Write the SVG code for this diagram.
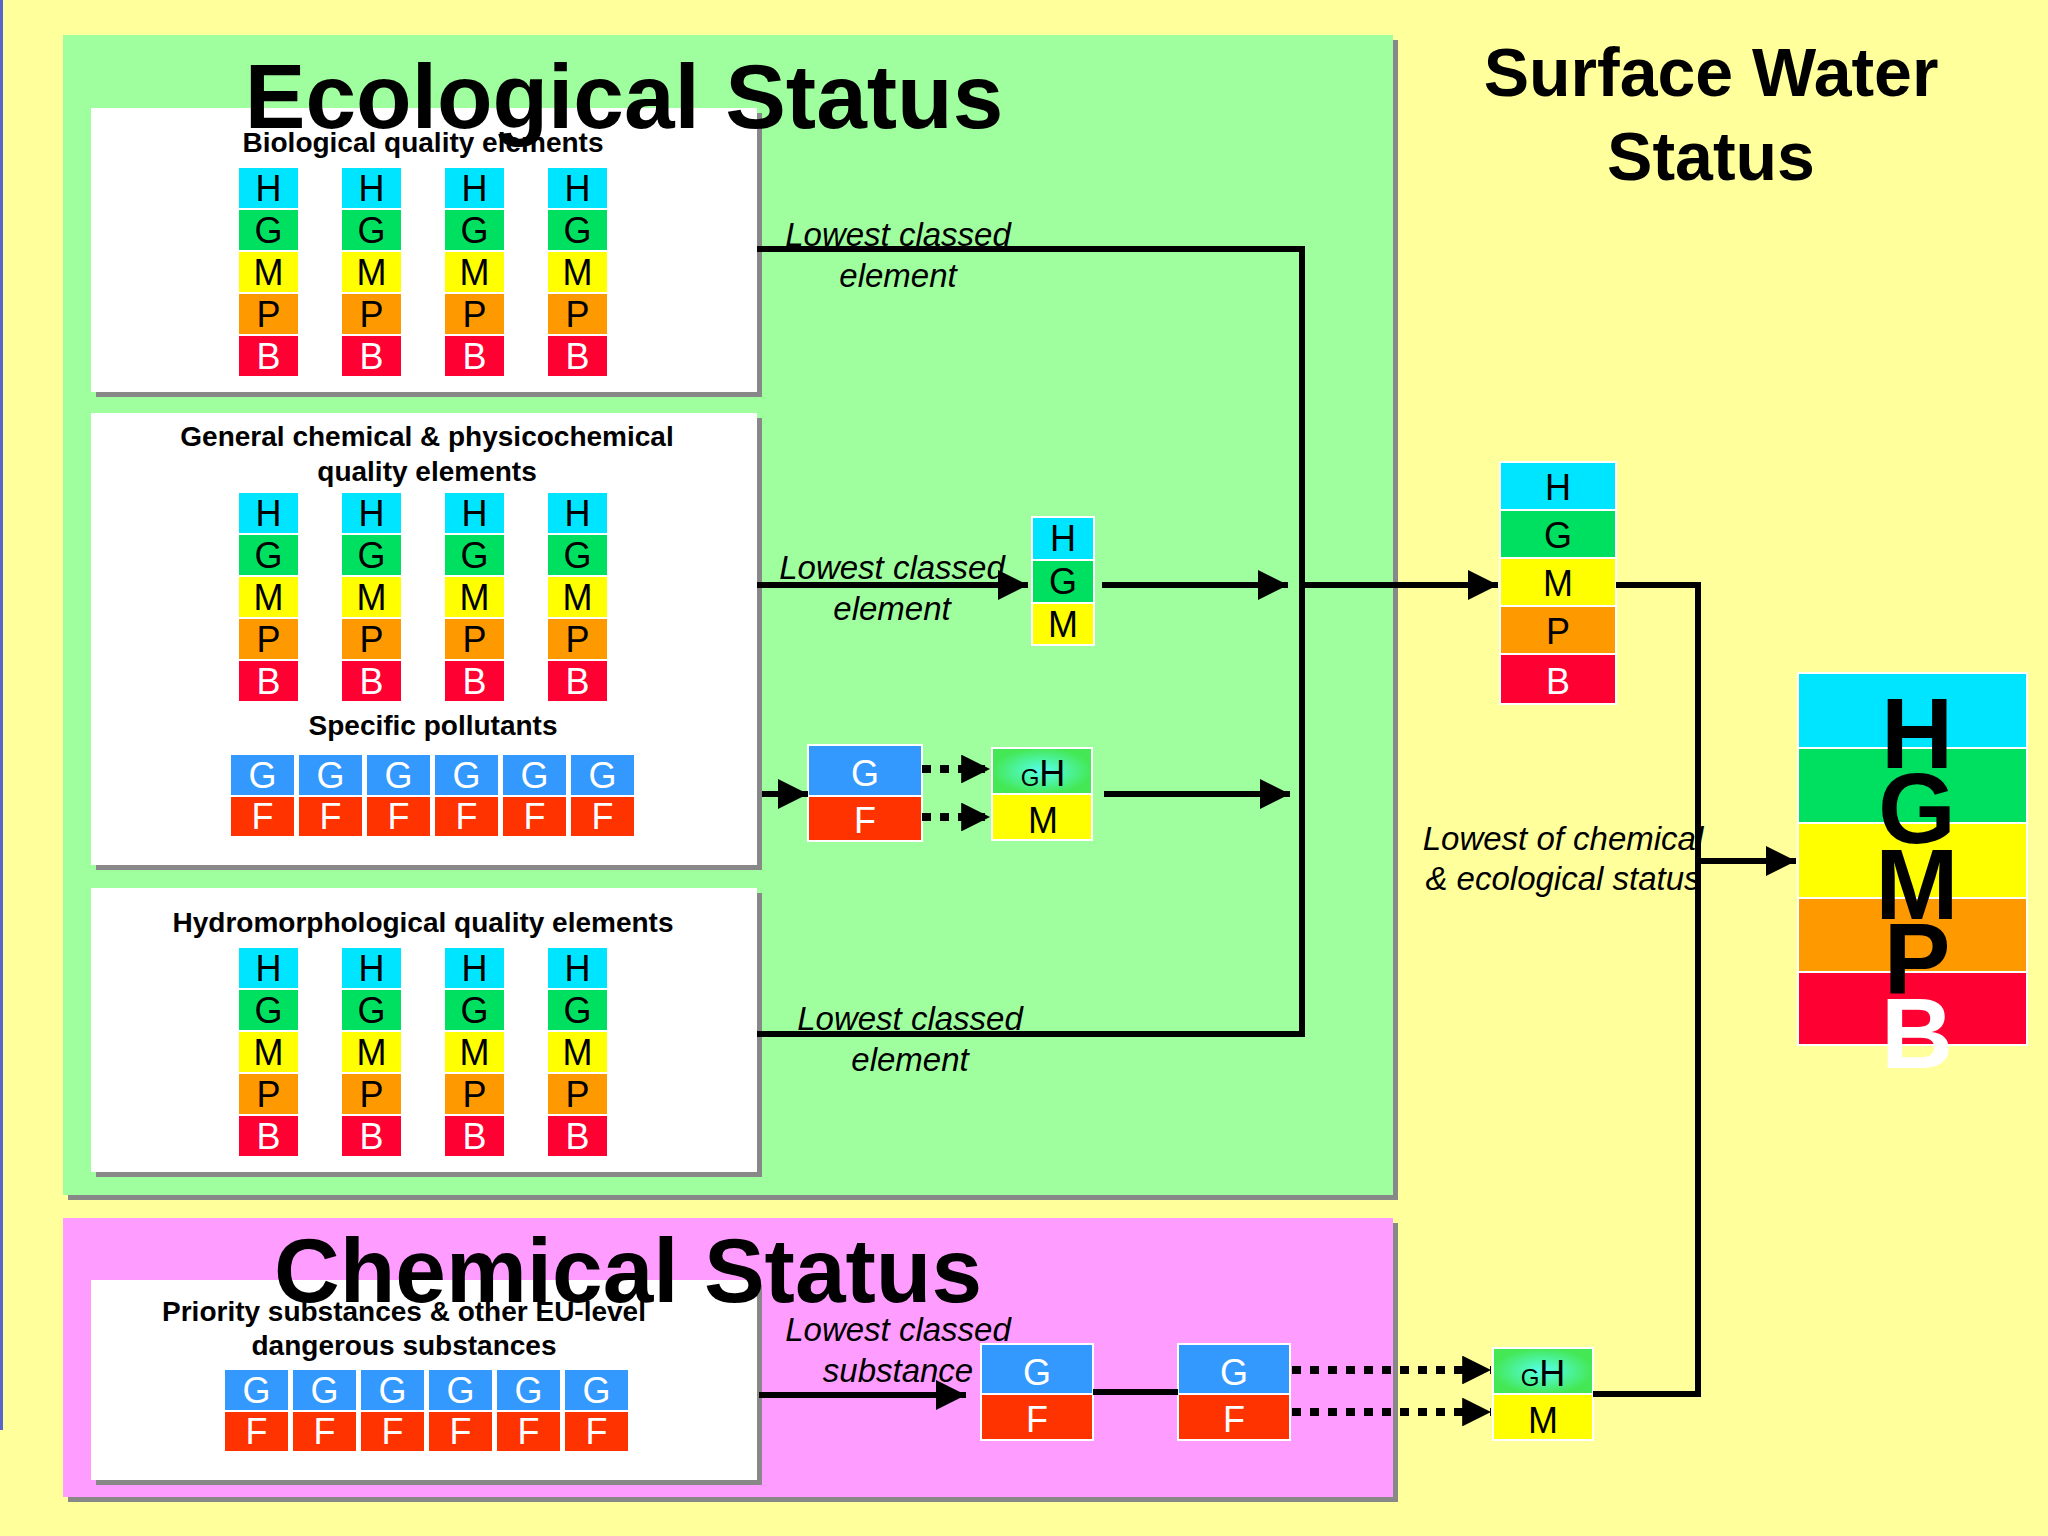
<svg xmlns="http://www.w3.org/2000/svg" xmlns:xlink="http://www.w3.org/1999/xlink" width="2048" height="1536" viewBox="0 0 2048 1536">
<style>
.c{stroke:#fff;stroke-width:2}
.h{fill:#00E5FF}.g{fill:#00E060}.m{fill:#FFFF00}.p{fill:#FF9900}.b{fill:#FF0033}.bl{fill:#3399FF}.f{fill:#FF3300}
.t{font-family:"Liberation Sans",Arial,sans-serif;font-size:36px;text-anchor:middle}
.w{fill:#fff}
.hd{font-family:"Liberation Sans",Arial,sans-serif;font-weight:bold;font-size:28px;text-anchor:middle}
.ti{font-family:"Liberation Sans",Arial,sans-serif;font-weight:bold;text-anchor:middle}
.lb{font-family:"Liberation Sans",Arial,sans-serif;font-style:italic;font-size:33px;text-anchor:middle}
.ln{stroke:#000;stroke-width:6;fill:none}
.dt{stroke:#000;stroke-width:8;fill:none;stroke-dasharray:9 9}
</style>
<defs>
<marker id="a" viewBox="0 0 10 10" refX="10" refY="5" markerWidth="5" markerHeight="5" orient="auto" markerUnits="strokeWidth"><path d="M0,0L10,5L0,10z"/></marker>
<marker id="a2" viewBox="0 0 10 10" refX="10" refY="5" markerWidth="3.6" markerHeight="3.6" orient="auto" markerUnits="strokeWidth"><path d="M0,0L10,5L0,10z"/></marker>
<radialGradient id="gh"><stop offset="0" stop-color="#55FFEE"/><stop offset="1" stop-color="#44E855"/></radialGradient>
<g id="stk">
<rect class="c h" x="0" y="0" width="61" height="42"/><text class="t" x="30.5" y="34">H</text>
<rect class="c g" x="0" y="42" width="61" height="42"/><text class="t" x="30.5" y="76">G</text>
<rect class="c m" x="0" y="84" width="61" height="42"/><text class="t" x="30.5" y="118">M</text>
<rect class="c p" x="0" y="126" width="61" height="42"/><text class="t" x="30.5" y="160">P</text>
<rect class="c b" x="0" y="168" width="61" height="42"/><text class="t w" x="30.5" y="202">B</text>
</g>
<g id="gf">
<rect class="c bl" x="0" y="0" width="65" height="42"/><text class="t w" x="32.5" y="34">G</text>
<rect class="c f" x="0" y="42" width="65" height="41"/><text class="t w" x="32.5" y="75">F</text>
</g>
</defs>
<rect width="2048" height="1536" fill="#FFFF9C"/>
<rect x="0" y="0" width="3" height="1430" fill="#5566cc"/>
<g id="eco">
<rect x="68" y="40" width="1330" height="1160" fill="#888"/>
<rect x="63" y="35" width="1330" height="1160" fill="#9FFF9F"/>
</g>
<g id="chem">
<rect x="68" y="1223" width="1330" height="279" fill="#888"/>
<rect x="63" y="1218" width="1330" height="279" fill="#FF9CFF"/>
</g>
<g id="box1"><rect x="96" y="113" width="666" height="284" fill="#888"/><rect x="91" y="108" width="666" height="284" fill="#fff"/>
<text class="hd" x="423" y="152">Biological quality elements</text>
<use href="#stk" x="238" y="167"/><use href="#stk" x="341" y="167"/><use href="#stk" x="444" y="167"/><use href="#stk" x="547" y="167"/></g>
<g id="box2"><rect x="96" y="418" width="666" height="452" fill="#888"/><rect x="91" y="413" width="666" height="452" fill="#fff"/>
<text class="hd" x="427" y="446">General chemical &amp; physicochemical</text>
<text class="hd" x="427" y="481">quality elements</text>
<use href="#stk" x="238" y="492"/><use href="#stk" x="341" y="492"/><use href="#stk" x="444" y="492"/><use href="#stk" x="547" y="492"/>
<text class="hd" x="433" y="735">Specific pollutants</text>
<use href="#gf" x="230" y="754"/><use href="#gf" x="298" y="754"/><use href="#gf" x="366" y="754"/><use href="#gf" x="434" y="754"/><use href="#gf" x="502" y="754"/><use href="#gf" x="570" y="754"/></g>
<g id="box3"><rect x="96" y="893" width="666" height="284" fill="#888"/><rect x="91" y="888" width="666" height="284" fill="#fff"/>
<text class="hd" x="423" y="932">Hydromorphological quality elements</text>
<use href="#stk" x="238" y="947"/><use href="#stk" x="341" y="947"/><use href="#stk" x="444" y="947"/><use href="#stk" x="547" y="947"/></g>
<g id="box4"><rect x="96" y="1285" width="666" height="200" fill="#888"/><rect x="91" y="1280" width="666" height="200" fill="#fff"/>
<text class="hd" x="404" y="1321">Priority substances &amp; other EU-level</text>
<text class="hd" x="404" y="1355">dangerous substances</text>
<use href="#gf" x="224" y="1369"/><use href="#gf" x="292" y="1369"/><use href="#gf" x="360" y="1369"/><use href="#gf" x="428" y="1369"/><use href="#gf" x="496" y="1369"/><use href="#gf" x="564" y="1369"/></g>
<text class="ti" x="624" y="128" font-size="91">Ecological Status</text>
<text class="ti" x="628" y="1302" font-size="91">Chemical Status</text>
<text class="ti" x="1711" y="96" font-size="68">Surface Water</text>
<text class="ti" x="1711" y="180" font-size="68">Status</text>
<g id="hgm"><rect class="c h" x="1032" y="517" width="62" height="43"/><text class="t" x="1063" y="551">H</text>
<rect class="c g" x="1032" y="560" width="62" height="43"/><text class="t" x="1063" y="594">G</text>
<rect class="c m" x="1032" y="603" width="62" height="42"/><text class="t" x="1063" y="637">M</text></g>
<g id="gf1"><rect class="c bl" x="808" y="745" width="114" height="51"/><text class="t w" x="865" y="786">G</text>
<rect class="c f" x="808" y="796" width="114" height="45"/><text class="t w" x="865" y="833">F</text></g>
<g id="ghm1"><rect class="c" fill="url(#gh)" x="992" y="748" width="100" height="46"/><text class="t" x="1043" y="786"><tspan font-size="24">G</tspan>H</text>
<rect class="c m" x="992" y="794" width="100" height="46"/><text class="t" x="1043" y="833">M</text></g>
<g id="stkR"><rect class="c h" x="1500" y="462" width="116" height="48"/><text class="t" x="1558" y="500">H</text>
<rect class="c g" x="1500" y="510" width="116" height="48"/><text class="t" x="1558" y="548">G</text>
<rect class="c m" x="1500" y="558" width="116" height="48"/><text class="t" x="1558" y="596">M</text>
<rect class="c p" x="1500" y="606" width="116" height="48"/><text class="t" x="1558" y="644">P</text>
<rect class="c b" x="1500" y="654" width="116" height="50"/><text class="t w" x="1558" y="694">B</text></g>
<g id="big"><rect class="c h" x="1798" y="673" width="229" height="75"/><rect class="c g" x="1798" y="748" width="229" height="75"/><rect class="c m" x="1798" y="823" width="229" height="75"/><rect class="c p" x="1798" y="898" width="229" height="74"/><rect class="c b" x="1798" y="972" width="229" height="73"/>
<g class="ti" font-size="100"><text x="1917" y="768">H</text><text x="1917" y="843">G</text><text x="1917" y="919">M</text><text x="1917" y="993">P</text><text x="1917" y="1068" fill="#fff">B</text></g></g>
<g id="gf2"><rect class="c bl" x="981" y="1344" width="112" height="50"/><text class="t w" x="1037" y="1385">G</text>
<rect class="c f" x="981" y="1394" width="112" height="46"/><text class="t w" x="1037" y="1432">F</text></g>
<g id="gf3"><rect class="c bl" x="1178" y="1344" width="112" height="50"/><text class="t w" x="1234" y="1385">G</text>
<rect class="c f" x="1178" y="1394" width="112" height="46"/><text class="t w" x="1234" y="1432">F</text></g>
<g id="ghm2"><rect class="c" fill="url(#gh)" x="1493" y="1348" width="100" height="46"/><text class="t" x="1543" y="1386"><tspan font-size="24">G</tspan>H</text>
<rect class="c m" x="1493" y="1394" width="100" height="46"/><text class="t" x="1543" y="1433">M</text></g>
<g id="connectors">
<path class="ln" d="M757,249H1302V1034H757"/>
<path class="ln" d="M757,585H1028" marker-end="url(#a)"/>
<path class="ln" d="M1102,585H1288" marker-end="url(#a)"/>
<path class="ln" d="M1302,585H1498" marker-end="url(#a)"/>
<path class="ln" d="M762,794H808" marker-end="url(#a)"/>
<path class="ln" d="M1104,794H1290" marker-end="url(#a)"/>
<path class="dt" d="M922,769H990" marker-end="url(#a2)"/>
<path class="dt" d="M922,817H990" marker-end="url(#a2)"/>
<path class="ln" d="M1616,585H1698V1394H1593"/>
<path class="ln" d="M1698,861H1796" marker-end="url(#a)"/>
<path class="ln" d="M759,1395H966" marker-end="url(#a)"/>
<path class="ln" d="M1093,1392H1178"/>
<path class="dt" d="M1292,1370H1491" marker-end="url(#a2)"/>
<path class="dt" d="M1292,1412H1491" marker-end="url(#a2)"/>
</g>
<g id="labels">
<text class="lb" x="898" y="246">Lowest classed</text><text class="lb" x="898" y="287">element</text>
<text class="lb" x="892" y="579">Lowest classed</text><text class="lb" x="892" y="620">element</text>
<text class="lb" x="910" y="1030">Lowest classed</text><text class="lb" x="910" y="1071">element</text>
<text class="lb" x="898" y="1341">Lowest classed</text><text class="lb" x="898" y="1382">substance</text>
<text class="lb" x="1563" y="850">Lowest of chemical</text><text class="lb" x="1563" y="890">&amp; ecological status</text>
</g>
</svg>
